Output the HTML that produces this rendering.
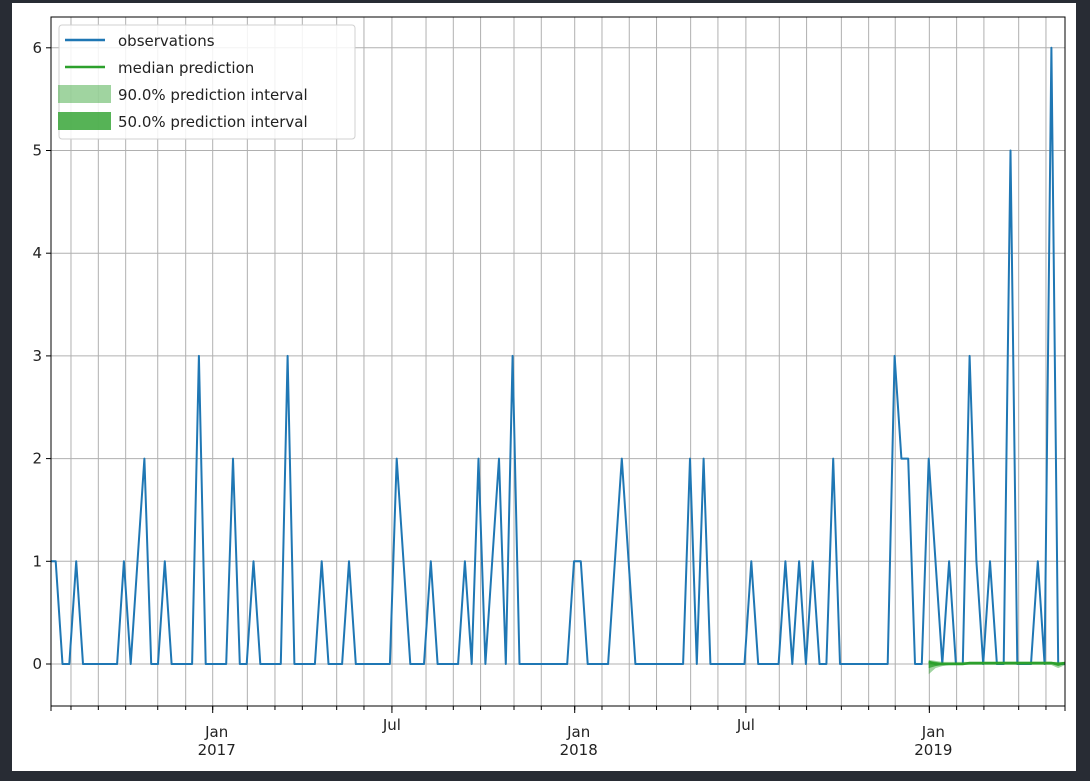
<!DOCTYPE html>
<html><head><meta charset="utf-8"><style>
html,body{margin:0;padding:0;background:#282c34;}
svg{display:block;font-family:"DejaVu Sans","Liberation Sans",sans-serif;}
</style></head><body>
<svg id="chart" width="1090" height="781" xmlns="http://www.w3.org/2000/svg">
<rect x="0" y="0" width="1090" height="781" fill="#282c34"/>
<rect x="12" y="3" width="1064" height="768" fill="#ffffff"/>
<defs><clipPath id="plotclip"><rect x="51" y="17" width="1014" height="689"/></clipPath></defs>
<g id="grid"></g>
<g id="series" clip-path="url(#plotclip)"></g>
<rect x="51" y="17" width="1014" height="689" fill="none" stroke="#000" stroke-width="1"/>
<g id="ticks"></g>
<g>
  <rect x="59" y="25" width="296" height="114" rx="3" fill="#fff" fill-opacity="0.85" stroke="#d0d0d0"/>
  <line x1="65" y1="40" x2="105" y2="40" stroke="#1f77b4" stroke-width="2.5"/>
  <text x="118" y="46" font-size="15" fill="#222">observations</text>
  <line x1="65" y1="67" x2="105" y2="67" stroke="#2ca02c" stroke-width="2.5"/>
  <text x="118" y="73" font-size="15" fill="#222">median prediction</text>
  <rect x="58" y="85" width="53" height="18" fill="#2ca02c" fill-opacity="0.45"/>
  <text x="118" y="100" font-size="15" fill="#222">90.0% prediction interval</text>
  <rect x="58" y="112" width="53" height="18" fill="#2ca02c" fill-opacity="0.8"/>
  <text x="118" y="127" font-size="15" fill="#222">50.0% prediction interval</text>
</g>
</svg>
<script>
const observations = [
1,0,0,1,0,0,0,0,0,0,
1,0,1,2,0,0,1,0,0,0,
0,3,0,0,0,0,2,0,0,1,
0,0,0,0,3,0,0,0,0,1,
0,0,0,1,0,0,0,0,0,0,
2,1,0,0,0,1,0,0,0,0,
1,0,2,0,1,2,0,3,0,0,
0,0,0,0,0,0,1,1,0,0,
0,0,1,2,1,0,0,0,0,0,
0,0,0,2,0,2,0,0,0,0,
0,0,1,0,0,0,0,1,0,1,
0,1,0,0,2,0,0,0,0,0,
0,0,0,3,2,2,0,0,2,1,
0,1,0,0,3,1,0,1,0,0,
5,0,0,0,1,0,6,0,0];
const predStart = 128;
const median = [0.02,0.0,0.0,0.0,0.0,0.0,0.01,0.01,0.01,0.01,0.01,0.01,0.01,0.01,0.01,0.01,0.01,0.01,0.01,0.0,0.01];
const lower90 = [-0.1,-0.04,-0.02,-0.01,-0.01,-0.01,-0.01,-0.01,-0.01,-0.01,-0.01,-0.01,-0.01,-0.01,-0.01,-0.01,-0.01,-0.01,-0.01,-0.04,-0.01];
const upper90 = [0.04,0.03,0.02,0.02,0.02,0.02,0.02,0.02,0.02,0.02,0.02,0.02,0.02,0.02,0.02,0.02,0.02,0.02,0.02,0.02,0.02];
const lower50 = [-0.04,-0.02,-0.01,0,0,0,0,0,0,0,0,0,0,0,0,0,0,0,0,-0.02,0];
const upper50 = [0.03,0.02,0.01,0.01,0.01,0.01,0.01,0.01,0.01,0.01,0.02,0.02,0.02,0.02,0.02,0.02,0.02,0.02,0.02,0.01,0.02];
const yTicks = [0,1,2,3,4,5,6];
const monthGrid = [2.24,6.25,10.26,14.96,19.06,23.02,28.1,32.15,36.16,41.2,45.2,49.3,54.3,58.3,62.3,67.2,71.2,76.1,80.1,84.1,88.1,93.1,97.1,101.2,106.1,110.1,115.2,119.2,123.1,128.1,132.1,136.1,141.2,145.2];
const majorLabels = [["Jan","2017",23.02],["Jul","",49.3],["Jan","2018",76.1],["Jul","",101.2],["Jan","2019",128.1]];

const NS="http://www.w3.org/2000/svg";
const X=i=>55.7+6.82*i;
const Y=v=>664-102.7*v;
function mk(tag,attrs,parent){const e=document.createElementNS(NS,tag);for(const k in attrs)e.setAttribute(k,attrs[k]);parent.appendChild(e);return e;}
const grid=document.getElementById('grid'),series=document.getElementById('series'),ticks=document.getElementById('ticks');

yTicks.forEach(v=>{
  const l=mk('line',{x1:51,x2:1065,y1:Y(v),y2:Y(v),stroke:'#b0b0b0','stroke-width':1},grid);
  
  
  const t=mk('line',{x1:46,x2:51,y1:Y(v),y2:Y(v),stroke:'#000'},ticks);
  
  
  const tx=mk('text',{x:42,y:Y(v)+5,'text-anchor':'end','font-size':15,fill:'#222'},ticks);
  tx.textContent=v;
  
  
});
monthGrid.forEach(w=>{
  const l=mk('line',{x1:X(w),x2:X(w),y1:17,y2:706,stroke:'#b0b0b0','stroke-width':1},grid);
  
  
  const t=mk('line',{x1:X(w),x2:X(w),y1:706,y2:710,stroke:'#000'},ticks);
  
  
});
[51,1065].forEach(px=>{const t=mk('line',{x1:px,x2:px,y1:706,y2:711,stroke:'#000'},ticks);
  
  });
majorLabels.forEach(m=>{
  const t=mk('line',{x1:X(m[2]),x2:X(m[2]),y1:706,y2:713,stroke:'#000'},ticks);
  
  
  const isJul=m[0]==='Jul';
  const a=mk('text',{x:X(m[2])+ (isJul?0:4),y:isJul?730:737,'text-anchor':'middle','font-size':15,fill:'#222'},ticks);
  a.textContent=m[0];
  
  
  if(m[1]){const b=mk('text',{x:X(m[2])+4,y:755,'text-anchor':'middle','font-size':15,fill:'#222'},ticks);
    b.textContent=m[1];
    
    }
});

let d='M'+X(-1)+','+Y(observations[0]);
observations.forEach((v,i)=>{d+=' L'+X(i).toFixed(1)+','+Y(v).toFixed(1);});
const obs=mk('path',{d:d,fill:'none',stroke:'#1f77b4','stroke-width':2,'stroke-linejoin':'round'},series);



function band(lo,hi,op,name){
  let p='';
  hi.forEach((v,k)=>{p+=(k?' L':'M')+X(predStart+k).toFixed(1)+','+Y(v).toFixed(1);});
  for(let k=lo.length-1;k>=0;k--)p+=' L'+X(predStart+k).toFixed(1)+','+Y(lo[k]).toFixed(1);
  const e=mk('path',{d:p+'Z',fill:'#2ca02c','fill-opacity':op},series);
  
  
}
band(lower90,upper90,0.45,'interval-90-band');
band(lower50,upper50,0.8,'interval-50-band');
let md='';
median.forEach((v,k)=>{md+=(k?' L':'M')+X(predStart+k).toFixed(1)+','+Y(v).toFixed(1);});
const ml=mk('path',{d:md,fill:'none',stroke:'#2ca02c','stroke-width':2.5},series);


</script>
</body></html>
